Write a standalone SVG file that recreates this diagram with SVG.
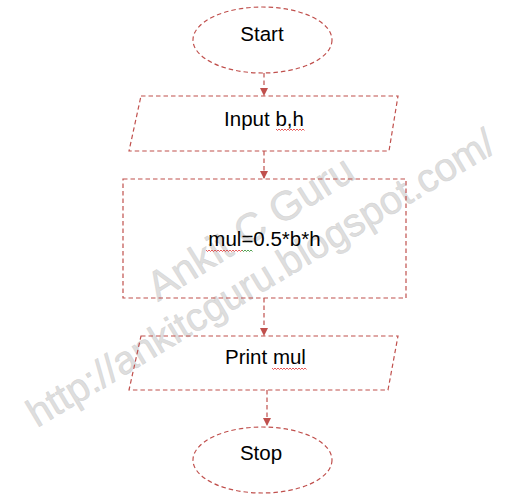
<svg xmlns="http://www.w3.org/2000/svg" width="518" height="502" viewBox="0 0 518 502">
<style>
.shape{fill:none;stroke:#C0504D;stroke-width:1.2;stroke-dasharray:4.5,3}
.conn{fill:none;stroke:#C0504D;stroke-width:1.2;stroke-dasharray:4.5,3}
.lbl{font-family:"Liberation Sans",Arial,sans-serif;font-size:20.5px;fill:#000;text-anchor:middle}
.wm{font-family:"Liberation Sans",Arial,sans-serif;font-size:41px;fill:#dedede;stroke:#d2d2d2;stroke-width:0.5}
.sq{fill:none;stroke-width:0.8}
</style>
<defs>
<marker id="arr" viewBox="0 0 8 8" refX="8" refY="4" markerWidth="8" markerHeight="8" markerUnits="userSpaceOnUse" orient="auto">
<path d="M0,0 L8,4 L0,8 Z" fill="#C0504D"/>
</marker>
</defs>
<rect width="518" height="502" fill="#fff"/>
<g id="watermark">
<text class="wm" transform="translate(158,302) rotate(-32)">Ankit C Guru</text>
<text class="wm" style="font-size:39.5px" transform="translate(37,428) rotate(-31)">http://ankitcguru.blogspot.com/</text>
</g>
<g id="connectors">
<line class="conn" x1="264" y1="73" x2="264" y2="96" marker-end="url(#arr)"/>
<line class="conn" x1="264" y1="151" x2="264" y2="179" marker-end="url(#arr)"/>
<line class="conn" x1="264" y1="298" x2="264" y2="336" marker-end="url(#arr)"/>
<line class="conn" x1="267" y1="390" x2="267" y2="426" marker-end="url(#arr)"/>
</g>
<g id="start">
<ellipse class="shape" cx="262.5" cy="40" rx="69.5" ry="33"/>
<text class="lbl" x="262" y="41">Start</text>
</g>
<g id="input">
<polygon class="shape" points="141,96 398,96 389,151 129,151"/>
<text class="lbl" x="264" y="126">Input b,h</text>
<path class="sq" stroke="#e03030" d="M276,129 l1.5,1.5 l1.5,-1.5 l1.5,1.5 l1.5,-1.5 l1.5,1.5 l1.5,-1.5 l1.5,1.5 l1.5,-1.5 l1.5,1.5 l1.5,-1.5 l1.5,1.5 l1.5,-1.5 l1.5,1.5 l1.5,-1.5 l1.5,1.5 l1.5,-1.5 l1.5,1.5 l1.5,-1.5 l1.5,1.5"/>
</g>
<g id="process">
<rect class="shape" x="123" y="179" width="283" height="119"/>
<text class="lbl" x="264.5" y="246">mul=0.5*b*h</text>
<path class="sq" stroke="#e03030" d="M206,250 l1.5,1.5 l1.5,-1.5 l1.5,1.5 l1.5,-1.5 l1.5,1.5 l1.5,-1.5 l1.5,1.5 l1.5,-1.5 l1.5,1.5 l1.5,-1.5 l1.5,1.5 l1.5,-1.5 l1.5,1.5 l1.5,-1.5 l1.5,1.5 l1.5,-1.5 l1.5,1.5 l1.5,-1.5 l1.5,1.5 l1.5,-1.5 l1.5,1.5 l1.5,-1.5 l1.5,1.5 l1.5,-1.5"/>
<path class="sq" stroke="#2a8a2a" d="M242,250 l1.5,1.5 l1.5,-1.5 l1.5,1.5 l1.5,-1.5 l1.5,1.5 l1.5,-1.5 l1.5,1.5"/>
</g>
<g id="output">
<polygon class="shape" points="141,336 398,336 388,390 129,390"/>
<text class="lbl" x="265.5" y="364">Print mul</text>
<path class="sq" stroke="#e03030" d="M272,368 l1.5,1.5 l1.5,-1.5 l1.5,1.5 l1.5,-1.5 l1.5,1.5 l1.5,-1.5 l1.5,1.5 l1.5,-1.5 l1.5,1.5 l1.5,-1.5 l1.5,1.5 l1.5,-1.5 l1.5,1.5 l1.5,-1.5 l1.5,1.5 l1.5,-1.5 l1.5,1.5 l1.5,-1.5 l1.5,1.5 l1.5,-1.5 l1.5,1.5 l1.5,-1.5 l1.5,1.5"/>
</g>
<g id="stop">
<ellipse class="shape" cx="262.5" cy="460" rx="69.5" ry="33"/>
<text class="lbl" x="261" y="460">Stop</text>
</g>
</svg>
